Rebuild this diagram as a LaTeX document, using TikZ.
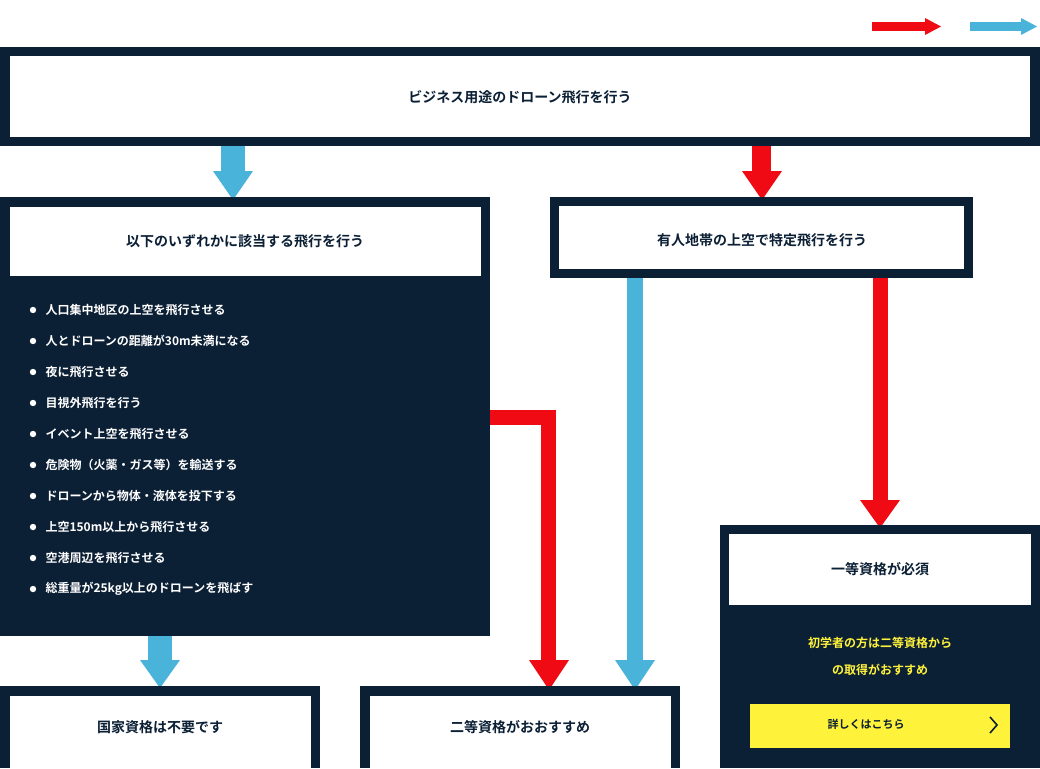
\documentclass[tikz,border=0pt]{standalone}
\usepackage{fontspec}
\setmainfont{Noto Sans CJK JP}[BoldFont={Noto Sans CJK JP Bold}]
\newfontfamily\cjk{Noto Sans CJK JP Bold}
\definecolor{navy}{HTML}{0B1F35}
\definecolor{rd}{HTML}{F00A14}
\definecolor{bl}{HTML}{4AB3DA}
\definecolor{yl}{HTML}{FFF23A}
\tikzset{
 frame/.style={fill=navy,draw=none},
 inner/.style={fill=white,draw=none},
 ttl/.style={font=\cjk\fontsize{14}{16}\selectfont,text=navy},
 item/.style={font=\cjk\fontsize{12}{14}\selectfont,text=white,anchor=west},
 yt/.style={font=\cjk\fontsize{12}{14}\selectfont,text=yl},
}
\begin{document}
\begin{tikzpicture}[x=1pt,y=-1pt]
\useasboundingbox (0,0) rectangle (1040,768);
\fill[white] (0,0) rectangle (1040,768);
% legend
\fill[rd] (872,22) rectangle (926,31);
\fill[rd] (925,18) -- (941,26.5) -- (925,35) -- cycle;
\fill[bl] (970,22) rectangle (1022,31);
\fill[bl] (1021,18) -- (1037,26.5) -- (1021,35) -- cycle;
% top box
\fill[frame] (0,47) rectangle (1040,146);
\fill[inner] (10,56) rectangle (1030,137);
\node[ttl] (top) at (520,97) {ビジネス用途のドローン飛行を行う};
% arrows from top
\fill[bl] (221,146) rectangle (245,172);
\fill[bl] (213,171) -- (253,171) -- (233,200) -- cycle;
\fill[rd] (752,146) rectangle (771,172);
\fill[rd] (742,171) -- (782,171) -- (762,200) -- cycle;
% left box
\fill[frame] (0,197) rectangle (490,636);
\fill[inner] (10,207) rectangle (481,276);
\node[ttl] (lt) at (245,241) {以下のいずれかに該当する飛行を行う};
\foreach \t [count=\i from 0] in {人口集中地区の上空を飛行させる,人とドローンの距離が30m未満になる,夜に飛行させる,目視外飛行を行う,イベント上空を飛行させる,危険物（火薬・ガス等）を輸送する,ドローンから物体・液体を投下する,上空150m以上から飛行させる,空港周辺を飛行させる,総重量が25kg以上のドローンを飛ばす}{
  \fill[white] (33,310+31*\i) circle (3.2);
  \node[item] at (42,310+31*\i) {\t};
}
% right box
\fill[frame] (550,197) rectangle (973,278);
\fill[inner] (559,206) rectangle (964,269);
\node[ttl] (rt) at (762,240) {有人地帯の上空で特定飛行を行う};
% connectors
\fill[bl] (627,278) rectangle (643,662);
\fill[bl] (615,660) -- (655,660) -- (635,690) -- cycle;
\fill[rd] (873,278) rectangle (888,502);
\fill[rd] (860,500) -- (900,500) -- (880,528) -- cycle;
\fill[rd] (490,410) rectangle (556,425);
\fill[rd] (541,410) rectangle (556,662);
\fill[rd] (529,660) -- (569,660) -- (549,690) -- cycle;
\fill[bl] (148,636) rectangle (172,662);
\fill[bl] (140,660) -- (180,660) -- (160,688) -- cycle;
% bottom boxes
\fill[frame] (0,686) rectangle (320,768);
\fill[inner] (10,696) rectangle (311,768);
\node[ttl] (b1) at (160,727) {国家資格は不要です};
\fill[frame] (360,686) rectangle (680,768);
\fill[inner] (370,696) rectangle (671,768);
\node[ttl] (b2) at (520,727) {二等資格がおおすすめ};
% right bottom box
\fill[frame] (720,525) rectangle (1040,768);
\fill[inner] (729,534) rectangle (1031,605);
\node[ttl] (b3) at (880,569) {一等資格が必須};
\node[yt] at (880,643) {初学者の方は二等資格から};
\node[yt] at (880,670) {の取得がおすすめ};
\fill[yl] (750,704) rectangle (1010,748);
\node[font=\cjk\fontsize{11}{13}\selectfont,text=navy] (btn) at (866,724) {詳しくはこちら};
\draw[navy,line width=1.6pt] (990,717) -- (997,725) -- (990,733);
\end{tikzpicture}
\end{document}
